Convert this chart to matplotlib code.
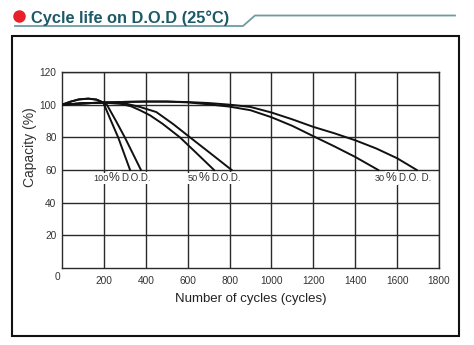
import matplotlib
matplotlib.use("Agg")
import matplotlib.pyplot as plt
from matplotlib.patches import Rectangle
from matplotlib.lines import Line2D

# ---- data ----
cycles_100a = [0, 40, 80, 125, 165, 197, 230, 269, 300, 325]
cap_100a = [100, 101.8, 103.2, 103.7, 103.1, 101.3, 91.3, 79.7, 68.8, 60]
cycles_100b = [0, 40, 80, 125, 165, 197, 215, 260, 301, 340, 377]
cap_100b = [100, 101.8, 103.2, 103.7, 103.1, 101.3, 99.8, 89.5, 79.7, 69.6, 60]

cycles_50a = [0, 100, 200, 280, 330, 372, 420, 480, 563, 640, 726]
cap_50a = [100, 100.8, 101.3, 100.5, 99, 96.6, 93.5, 88.3, 80, 70.6, 60]
cycles_50b = [0, 100, 200, 300, 372, 450, 530, 611, 710, 810]
cap_50b = [100, 100.8, 101.3, 100.8, 98.6, 95.5, 88.2, 80, 70.1, 60]

cycles_30a = [0, 100, 200, 300, 400, 500, 600, 700, 800, 900, 1000, 1100,
              1200, 1300, 1400, 1510]
cap_30a = [100, 100.8, 101.3, 101.7, 101.9, 101.9, 101.4, 100.2, 98.8, 96.6,
           92.3, 87, 80.7, 74.5, 68, 60]
cycles_30b = [0, 100, 200, 300, 400, 500, 600, 700, 800, 900, 1000, 1100,
              1200, 1300, 1400, 1500, 1600, 1694]
cap_30b = [100, 100.8, 101.3, 101.7, 101.9, 101.9, 101.6, 101, 100, 98.6,
           95.2, 91, 86.4, 82.5, 78.2, 73.2, 67.2, 60]

x_ticks = [200, 400, 600, 800, 1000, 1200, 1400, 1600, 1800]
y_ticks = [20, 40, 60, 80, 100, 120]

label_nums = ["100", "50", "30"]
label_dods = ["D.O.D.", "D.O.D.", "D.O. D."]
label_x = [148, 602, 1495]
label_y = 53.3

title = "Cycle life on D.O.D (25°C)"

# ---- figure ----
W, H = 474, 345
fig = plt.figure(figsize=(W / 100, H / 100), dpi=100)
fig.patch.set_facecolor("white")
ff = ["Liberation Sans", "DejaVu Sans"]


def fx(px):
    return px / W


def fy(py):
    return 1 - py / H


# outer frame
fig.patches.append(Rectangle((fx(12), fy(336)), fx(459) - fx(12), fy(36) - fy(336),
                             transform=fig.transFigure, fill=False,
                             ec="#111111", lw=1.5))
# title decoration
fig.lines.append(Line2D([fx(15), fx(243), fx(255), fx(455)],
                        [fy(26), fy(26), fy(15.5), fy(15.5)],
                        transform=fig.transFigure, color="#6f9aa3", lw=1.3))
fig.lines.append(Line2D([fx(19)], [fy(15.5)], transform=fig.transFigure,
                        marker="o", ms=8, color="#e8202a", lw=0))
fig.text(fx(31), fy(22.5), title, color="#1d5a68", fontsize=11.8,
         fontweight="bold", family=ff, ha="left", va="baseline")

ax = fig.add_axes([fx(62), fy(268), fx(439) - fx(62), fy(72) - fy(268)])
ax.set_xlim(0, 1800)
ax.set_ylim(0, 120)

for c, v in [(cycles_100a, cap_100a), (cycles_100b, cap_100b),
             (cycles_50a, cap_50a), (cycles_50b, cap_50b),
             (cycles_30a, cap_30a), (cycles_30b, cap_30b)]:
    ax.plot(c, v, color="#111111", lw=1.4, solid_joinstyle="round", zorder=3)

ax.set_xticks(x_ticks)
ax.set_yticks(y_ticks)
ax.set_xticklabels([str(t) for t in x_ticks], family=ff, fontsize=7.3, color="#333333")
ax.set_yticklabels([str(t) for t in y_ticks], family=ff, fontsize=7.3, color="#333333")
ax.tick_params(length=0, pad=4)
ax.tick_params(axis="x", pad=5.5)
ax.grid(True, color="#2a2a2a", lw=1.0)
for s in ax.spines.values():
    s.set_color("#2a2a2a")
    s.set_linewidth(1.0)
ax.annotate("0", xy=(0, 0), xycoords="axes fraction", xytext=(-5, -9),
            textcoords="offset pixels", ha="center", va="center",
            family=ff, fontsize=7.3, color="#333333")

ax.set_xlabel("Number of cycles (cycles)", family=ff, fontsize=9.5,
              color="#222222", labelpad=5)
ax.set_ylabel("Capacity (%)", family=ff, fontsize=10, color="#333333")
ax.yaxis.set_label_coords(-0.066, 0.617)

for num, dod, xx in zip(label_nums, label_dods, label_x):
    bb = dict(fc="white", ec="none", pad=1.0)
    nw = 5.2 * len(num) + 0.5
    ax.annotate(num, xy=(xx, label_y), xytext=(0, 0), textcoords="offset pixels",
                family=ff, fontsize=6.6, color="#333333", ha="left",
                va="baseline", bbox=bb, zorder=4)
    ax.annotate("%", xy=(xx, label_y), xytext=(nw, 0), textcoords="offset pixels",
                family=ff, fontsize=8.8, color="#333333", ha="left",
                va="baseline", bbox=bb, zorder=5)
    ax.annotate(dod, xy=(xx, label_y), xytext=(nw + 12.5, 0),
                textcoords="offset pixels", family=ff, fontsize=7.0,
                color="#333333", ha="left", va="baseline", bbox=bb, zorder=4)

fig.savefig("out.png", dpi=100)
